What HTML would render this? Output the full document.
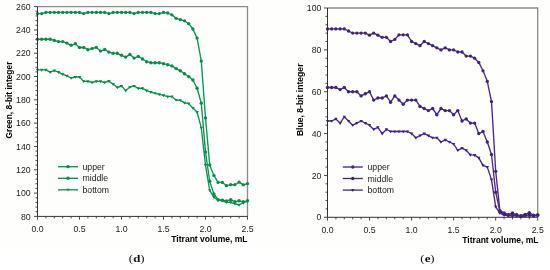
<!DOCTYPE html>
<html><head><meta charset="utf-8"><title>Titration curves</title>
<style>
html,body{margin:0;padding:0;background:#fff;}
body{width:550px;height:270px;overflow:hidden;}
svg{display:block;font-family:"Liberation Sans",sans-serif;}
</style></head><body>
<svg width="550" height="270" viewBox="0 0 550 270">
<rect x="0" y="0" width="550" height="249" fill="#fefefc"/>
<path d="M37.5 6.6H247.5V216.4" fill="none" stroke="#8a8a8a" stroke-width="1.3"/>
<g clip-path="none">
<polyline points="37.5,13.6 41.7,13.6 45.9,12.4 50.1,12.4 54.3,12.4 58.5,12.4 62.7,12.4 66.9,12.4 71.1,12.4 75.3,12.4 79.5,12.4 83.7,13.6 87.9,12.4 92.1,12.4 96.3,12.4 100.5,12.4 104.7,12.4 108.9,13.6 113.1,12.4 117.3,12.4 121.5,12.4 125.7,12.4 129.9,12.4 134.1,13.6 138.3,12.4 142.5,12.4 146.7,12.4 150.9,12.4 155.1,13.6 159.3,13.6 163.5,12.4 167.7,13.0 171.9,14.8 176.1,18.3 180.3,19.7 184.5,20.8 188.7,23.7 192.9,29.0 197.1,38.1 201.3,61.1 205.5,117.9 209.7,164.9 213.9,175.4 218.1,182.4 222.3,182.4 226.5,185.7 230.7,184.7 234.9,184.7 239.1,182.1 243.3,184.9 247.5,183.6" fill="none" stroke="#0b9550" stroke-width="1.35" stroke-linejoin="round"/>
<g fill="#0a8a4a"><circle cx="37.5" cy="13.6" r="1.65"/><circle cx="41.7" cy="13.6" r="1.65"/><circle cx="45.9" cy="12.4" r="1.65"/><circle cx="50.1" cy="12.4" r="1.65"/><circle cx="54.3" cy="12.4" r="1.65"/><circle cx="58.5" cy="12.4" r="1.65"/><circle cx="62.7" cy="12.4" r="1.65"/><circle cx="66.9" cy="12.4" r="1.65"/><circle cx="71.1" cy="12.4" r="1.65"/><circle cx="75.3" cy="12.4" r="1.65"/><circle cx="79.5" cy="12.4" r="1.65"/><circle cx="83.7" cy="13.6" r="1.65"/><circle cx="87.9" cy="12.4" r="1.65"/><circle cx="92.1" cy="12.4" r="1.65"/><circle cx="96.3" cy="12.4" r="1.65"/><circle cx="100.5" cy="12.4" r="1.65"/><circle cx="104.7" cy="12.4" r="1.65"/><circle cx="108.9" cy="13.6" r="1.65"/><circle cx="113.1" cy="12.4" r="1.65"/><circle cx="117.3" cy="12.4" r="1.65"/><circle cx="121.5" cy="12.4" r="1.65"/><circle cx="125.7" cy="12.4" r="1.65"/><circle cx="129.9" cy="12.4" r="1.65"/><circle cx="134.1" cy="13.6" r="1.65"/><circle cx="138.3" cy="12.4" r="1.65"/><circle cx="142.5" cy="12.4" r="1.65"/><circle cx="146.7" cy="12.4" r="1.65"/><circle cx="150.9" cy="12.4" r="1.65"/><circle cx="155.1" cy="13.6" r="1.65"/><circle cx="159.3" cy="13.6" r="1.65"/><circle cx="163.5" cy="12.4" r="1.65"/><circle cx="167.7" cy="13.0" r="1.65"/><circle cx="171.9" cy="14.8" r="1.65"/><circle cx="176.1" cy="18.3" r="1.65"/><circle cx="180.3" cy="19.7" r="1.65"/><circle cx="184.5" cy="20.8" r="1.65"/><circle cx="188.7" cy="23.7" r="1.65"/><circle cx="192.9" cy="29.0" r="1.65"/><circle cx="197.1" cy="38.1" r="1.65"/><circle cx="201.3" cy="61.1" r="1.65"/><circle cx="205.5" cy="117.9" r="1.65"/><circle cx="209.7" cy="164.9" r="1.65"/><circle cx="213.9" cy="175.4" r="1.65"/><circle cx="218.1" cy="182.4" r="1.65"/><circle cx="222.3" cy="182.4" r="1.65"/><circle cx="226.5" cy="185.7" r="1.65"/><circle cx="230.7" cy="184.7" r="1.65"/><circle cx="234.9" cy="184.7" r="1.65"/><circle cx="239.1" cy="182.1" r="1.65"/><circle cx="243.3" cy="184.9" r="1.65"/><circle cx="247.5" cy="183.6" r="1.65"/></g>
<polyline points="37.5,39.2 41.7,39.2 45.9,39.2 50.1,39.2 54.3,40.4 58.5,41.6 62.7,41.6 66.9,43.1 71.1,45.3 75.3,43.8 79.5,47.5 83.7,47.5 87.9,49.7 92.1,48.6 96.3,47.4 100.5,51.1 104.7,49.5 108.9,52.1 113.1,53.3 117.3,53.3 121.5,55.3 125.7,57.1 129.9,54.4 134.1,58.1 138.3,56.4 142.5,59.0 146.7,61.8 150.9,62.7 155.1,62.7 159.3,62.7 163.5,63.7 167.7,64.8 171.9,65.9 176.1,68.6 180.3,70.8 184.5,73.7 188.7,76.6 192.9,80.0 197.1,88.2 201.3,103.3 205.5,152.1 209.7,181.2 213.9,194.0 218.1,199.7 222.3,200.1 226.5,201.0 230.7,199.7 234.9,201.8 239.1,200.8 243.3,201.8 247.5,200.8" fill="none" stroke="#0b9550" stroke-width="1.35" stroke-linejoin="round"/>
<g fill="#0a8a4a"><circle cx="37.5" cy="39.2" r="1.7"/><circle cx="41.7" cy="39.2" r="1.7"/><circle cx="45.9" cy="39.2" r="1.7"/><circle cx="50.1" cy="39.2" r="1.7"/><circle cx="54.3" cy="40.4" r="1.7"/><circle cx="58.5" cy="41.6" r="1.7"/><circle cx="62.7" cy="41.6" r="1.7"/><circle cx="66.9" cy="43.1" r="1.7"/><circle cx="71.1" cy="45.3" r="1.7"/><circle cx="75.3" cy="43.8" r="1.7"/><circle cx="79.5" cy="47.5" r="1.7"/><circle cx="83.7" cy="47.5" r="1.7"/><circle cx="87.9" cy="49.7" r="1.7"/><circle cx="92.1" cy="48.6" r="1.7"/><circle cx="96.3" cy="47.4" r="1.7"/><circle cx="100.5" cy="51.1" r="1.7"/><circle cx="104.7" cy="49.5" r="1.7"/><circle cx="108.9" cy="52.1" r="1.7"/><circle cx="113.1" cy="53.3" r="1.7"/><circle cx="117.3" cy="53.3" r="1.7"/><circle cx="121.5" cy="55.3" r="1.7"/><circle cx="125.7" cy="57.1" r="1.7"/><circle cx="129.9" cy="54.4" r="1.7"/><circle cx="134.1" cy="58.1" r="1.7"/><circle cx="138.3" cy="56.4" r="1.7"/><circle cx="142.5" cy="59.0" r="1.7"/><circle cx="146.7" cy="61.8" r="1.7"/><circle cx="150.9" cy="62.7" r="1.7"/><circle cx="155.1" cy="62.7" r="1.7"/><circle cx="159.3" cy="62.7" r="1.7"/><circle cx="163.5" cy="63.7" r="1.7"/><circle cx="167.7" cy="64.8" r="1.7"/><circle cx="171.9" cy="65.9" r="1.7"/><circle cx="176.1" cy="68.6" r="1.7"/><circle cx="180.3" cy="70.8" r="1.7"/><circle cx="184.5" cy="73.7" r="1.7"/><circle cx="188.7" cy="76.6" r="1.7"/><circle cx="192.9" cy="80.0" r="1.7"/><circle cx="197.1" cy="88.2" r="1.7"/><circle cx="201.3" cy="103.3" r="1.7"/><circle cx="205.5" cy="152.1" r="1.7"/><circle cx="209.7" cy="181.2" r="1.7"/><circle cx="213.9" cy="194.0" r="1.7"/><circle cx="218.1" cy="199.7" r="1.7"/><circle cx="222.3" cy="200.1" r="1.7"/><circle cx="226.5" cy="201.0" r="1.7"/><circle cx="230.7" cy="199.7" r="1.7"/><circle cx="234.9" cy="201.8" r="1.7"/><circle cx="239.1" cy="200.8" r="1.7"/><circle cx="243.3" cy="201.8" r="1.7"/><circle cx="247.5" cy="200.8" r="1.7"/></g>
<polyline points="37.5,69.9 41.7,69.9 45.9,69.9 50.1,72.1 54.3,70.7 58.5,72.1 62.7,74.3 66.9,75.8 71.1,78.0 75.3,77.0 79.5,77.0 83.7,81.4 87.9,81.4 92.1,82.5 96.3,81.4 100.5,81.4 104.7,82.5 108.9,81.2 113.1,84.1 117.3,87.5 121.5,86.0 125.7,90.6 129.9,87.0 134.1,86.0 138.3,88.4 142.5,88.4 146.7,90.6 150.9,92.2 155.1,93.3 159.3,94.4 163.5,95.4 167.7,96.6 171.9,96.6 176.1,100.0 180.3,100.3 184.5,102.9 188.7,103.7 192.9,108.0 197.1,112.1 201.3,127.8 205.5,165.1 209.7,190.4 213.9,197.1 218.1,200.2 222.3,200.8 226.5,202.3 230.7,202.4 234.9,203.8 239.1,204.9 243.3,203.0 247.5,201.2" fill="none" stroke="#0b9550" stroke-width="1.35" stroke-linejoin="round"/>
<g fill="#0a8a4a"><path d="M35.8 68.8h3.4l-1.7 2.9z"/><path d="M40.0 68.8h3.4l-1.7 2.9z"/><path d="M44.2 68.8h3.4l-1.7 2.9z"/><path d="M48.4 71.0h3.4l-1.7 2.9z"/><path d="M52.6 69.6h3.4l-1.7 2.9z"/><path d="M56.8 71.0h3.4l-1.7 2.9z"/><path d="M61.0 73.2h3.4l-1.7 2.9z"/><path d="M65.2 74.7h3.4l-1.7 2.9z"/><path d="M69.4 76.9h3.4l-1.7 2.9z"/><path d="M73.6 75.9h3.4l-1.7 2.9z"/><path d="M77.8 75.9h3.4l-1.7 2.9z"/><path d="M82.0 80.3h3.4l-1.7 2.9z"/><path d="M86.2 80.3h3.4l-1.7 2.9z"/><path d="M90.4 81.4h3.4l-1.7 2.9z"/><path d="M94.6 80.3h3.4l-1.7 2.9z"/><path d="M98.8 80.3h3.4l-1.7 2.9z"/><path d="M103.0 81.4h3.4l-1.7 2.9z"/><path d="M107.2 80.1h3.4l-1.7 2.9z"/><path d="M111.4 83.0h3.4l-1.7 2.9z"/><path d="M115.6 86.4h3.4l-1.7 2.9z"/><path d="M119.8 84.9h3.4l-1.7 2.9z"/><path d="M124.0 89.5h3.4l-1.7 2.9z"/><path d="M128.2 85.9h3.4l-1.7 2.9z"/><path d="M132.4 84.9h3.4l-1.7 2.9z"/><path d="M136.6 87.3h3.4l-1.7 2.9z"/><path d="M140.8 87.3h3.4l-1.7 2.9z"/><path d="M145.0 89.5h3.4l-1.7 2.9z"/><path d="M149.2 91.1h3.4l-1.7 2.9z"/><path d="M153.4 92.2h3.4l-1.7 2.9z"/><path d="M157.6 93.3h3.4l-1.7 2.9z"/><path d="M161.8 94.3h3.4l-1.7 2.9z"/><path d="M166.0 95.5h3.4l-1.7 2.9z"/><path d="M170.2 95.5h3.4l-1.7 2.9z"/><path d="M174.4 98.9h3.4l-1.7 2.9z"/><path d="M178.6 99.2h3.4l-1.7 2.9z"/><path d="M182.8 101.8h3.4l-1.7 2.9z"/><path d="M187.0 102.6h3.4l-1.7 2.9z"/><path d="M191.2 106.9h3.4l-1.7 2.9z"/><path d="M195.4 111.0h3.4l-1.7 2.9z"/><path d="M199.6 126.7h3.4l-1.7 2.9z"/><path d="M203.8 164.0h3.4l-1.7 2.9z"/><path d="M208.0 189.3h3.4l-1.7 2.9z"/><path d="M212.2 196.0h3.4l-1.7 2.9z"/><path d="M216.4 199.1h3.4l-1.7 2.9z"/><path d="M220.6 199.7h3.4l-1.7 2.9z"/><path d="M224.8 201.2h3.4l-1.7 2.9z"/><path d="M229.0 201.3h3.4l-1.7 2.9z"/><path d="M233.2 202.7h3.4l-1.7 2.9z"/><path d="M237.4 203.8h3.4l-1.7 2.9z"/><path d="M241.6 201.9h3.4l-1.7 2.9z"/><path d="M245.8 200.1h3.4l-1.7 2.9z"/></g>
</g>
<path d="M37.5 6.6V216.4H247.5" fill="none" stroke="#333" stroke-width="1"/>
<path d="M34.0 216.40H37.5M35.5 211.74H37.5M35.5 207.08H37.5M35.5 202.41H37.5M35.5 197.75H37.5M34.0 193.09H37.5M35.5 188.43H37.5M35.5 183.76H37.5M35.5 179.10H37.5M35.5 174.44H37.5M34.0 169.78H37.5M35.5 165.12H37.5M35.5 160.45H37.5M35.5 155.79H37.5M35.5 151.13H37.5M34.0 146.47H37.5M35.5 141.80H37.5M35.5 137.14H37.5M35.5 132.48H37.5M35.5 127.82H37.5M34.0 123.16H37.5M35.5 118.49H37.5M35.5 113.83H37.5M35.5 109.17H37.5M35.5 104.51H37.5M34.0 99.84H37.5M35.5 95.18H37.5M35.5 90.52H37.5M35.5 85.86H37.5M35.5 81.20H37.5M34.0 76.53H37.5M35.5 71.87H37.5M35.5 67.21H37.5M35.5 62.55H37.5M35.5 57.88H37.5M34.0 53.22H37.5M35.5 48.56H37.5M35.5 43.90H37.5M35.5 39.24H37.5M35.5 34.57H37.5M34.0 29.91H37.5M35.5 25.25H37.5M35.5 20.59H37.5M35.5 15.92H37.5M35.5 11.26H37.5M34.0 6.60H37.5M37.50 216.4v3.3M45.90 216.4v2M54.30 216.4v2M62.70 216.4v2M71.10 216.4v2M79.50 216.4v3.3M87.90 216.4v2M96.30 216.4v2M104.70 216.4v2M113.10 216.4v2M121.50 216.4v3.3M129.90 216.4v2M138.30 216.4v2M146.70 216.4v2M155.10 216.4v2M163.50 216.4v3.3M171.90 216.4v2M180.30 216.4v2M188.70 216.4v2M197.10 216.4v2M205.50 216.4v3.3M213.90 216.4v2M222.30 216.4v2M230.70 216.4v2M239.10 216.4v2M247.50 216.4v3.3" fill="none" stroke="#333" stroke-width="0.9"/>
<g font-size="8.7" fill="#1a1a1a">
<text x="30.6" y="219.5" text-anchor="end">80</text>
<text x="30.6" y="196.2" text-anchor="end">100</text>
<text x="30.6" y="172.9" text-anchor="end">120</text>
<text x="30.6" y="149.6" text-anchor="end">140</text>
<text x="30.6" y="126.3" text-anchor="end">160</text>
<text x="30.6" y="102.9" text-anchor="end">180</text>
<text x="30.6" y="79.6" text-anchor="end">200</text>
<text x="30.6" y="56.3" text-anchor="end">220</text>
<text x="30.6" y="33.0" text-anchor="end">240</text>
<text x="30.6" y="9.7" text-anchor="end">260</text>
<text x="37.5" y="232.0" text-anchor="middle">0.0</text>
<text x="79.5" y="232.0" text-anchor="middle">0.5</text>
<text x="121.5" y="232.0" text-anchor="middle">1.0</text>
<text x="163.5" y="232.0" text-anchor="middle">1.5</text>
<text x="205.5" y="232.0" text-anchor="middle">2.0</text>
<text x="247.5" y="232.0" text-anchor="middle">2.5</text>
<text x="82.5" y="169.7">upper</text>
<text x="82.5" y="181.3">middle</text>
<text x="82.5" y="192.8">bottom</text>
</g>
<path d="M58 166.7h20" stroke="#0b9550" stroke-width="1.35" fill="none"/>
<circle cx="68" cy="166.7" r="1.65" fill="#0a8a4a"/>
<path d="M58 178.3h20" stroke="#0b9550" stroke-width="1.35" fill="none"/>
<circle cx="68" cy="178.3" r="1.7" fill="#0a8a4a"/>
<path d="M58 189.8h20" stroke="#0b9550" stroke-width="1.35" fill="none"/>
<path d="M66.3 188.7h3.4l-1.7 2.9z" fill="#0a8a4a"/>
<text x="247.6" y="242.4" text-anchor="end" font-size="8.55" font-weight="bold" fill="#000">Titrant volume, mL</text>
<text transform="translate(11.5 100)  rotate(-90)" text-anchor="middle" font-size="8.4" font-weight="bold" fill="#000">Green, 8-bit integer</text>
<text transform="translate(136.7 261.8) scale(1.15 1)" text-anchor="middle" font-family="'Liberation Serif', serif" font-size="11.2" fill="#111">(<tspan font-weight="bold">d</tspan>)</text>
<path d="M327.5 8.0H537.7V217.3" fill="none" stroke="#8a8a8a" stroke-width="1.3"/>
<g clip-path="none">
<polyline points="327.5,28.9 331.7,28.9 335.9,28.9 340.1,28.9 344.3,28.9 348.5,31.0 352.7,33.1 356.9,33.1 361.1,33.1 365.3,33.1 369.5,35.2 373.7,33.1 377.9,35.2 382.2,37.3 386.4,37.3 390.6,41.5 394.8,39.4 399.0,34.8 403.2,34.8 407.4,34.8 411.6,41.5 415.8,43.6 420.0,45.7 424.2,41.5 428.4,43.6 432.6,45.7 436.8,47.8 441.0,49.9 445.2,47.8 449.4,49.9 453.6,49.9 457.8,52.0 462.0,52.0 466.2,56.1 470.4,56.1 474.6,58.2 478.8,62.4 483.0,70.8 487.3,81.3 491.5,101.6 495.7,171.3 499.9,210.6 504.1,212.9 508.3,214.6 512.5,212.9 516.7,215.2 520.9,215.6 525.1,214.4 529.3,212.7 533.5,215.2 537.7,214.8" fill="none" stroke="#48298a" stroke-width="1.35" stroke-linejoin="round"/>
<g fill="#3e2378"><circle cx="327.5" cy="28.9" r="1.65"/><circle cx="331.7" cy="28.9" r="1.65"/><circle cx="335.9" cy="28.9" r="1.65"/><circle cx="340.1" cy="28.9" r="1.65"/><circle cx="344.3" cy="28.9" r="1.65"/><circle cx="348.5" cy="31.0" r="1.65"/><circle cx="352.7" cy="33.1" r="1.65"/><circle cx="356.9" cy="33.1" r="1.65"/><circle cx="361.1" cy="33.1" r="1.65"/><circle cx="365.3" cy="33.1" r="1.65"/><circle cx="369.5" cy="35.2" r="1.65"/><circle cx="373.7" cy="33.1" r="1.65"/><circle cx="377.9" cy="35.2" r="1.65"/><circle cx="382.2" cy="37.3" r="1.65"/><circle cx="386.4" cy="37.3" r="1.65"/><circle cx="390.6" cy="41.5" r="1.65"/><circle cx="394.8" cy="39.4" r="1.65"/><circle cx="399.0" cy="34.8" r="1.65"/><circle cx="403.2" cy="34.8" r="1.65"/><circle cx="407.4" cy="34.8" r="1.65"/><circle cx="411.6" cy="41.5" r="1.65"/><circle cx="415.8" cy="43.6" r="1.65"/><circle cx="420.0" cy="45.7" r="1.65"/><circle cx="424.2" cy="41.5" r="1.65"/><circle cx="428.4" cy="43.6" r="1.65"/><circle cx="432.6" cy="45.7" r="1.65"/><circle cx="436.8" cy="47.8" r="1.65"/><circle cx="441.0" cy="49.9" r="1.65"/><circle cx="445.2" cy="47.8" r="1.65"/><circle cx="449.4" cy="49.9" r="1.65"/><circle cx="453.6" cy="49.9" r="1.65"/><circle cx="457.8" cy="52.0" r="1.65"/><circle cx="462.0" cy="52.0" r="1.65"/><circle cx="466.2" cy="56.1" r="1.65"/><circle cx="470.4" cy="56.1" r="1.65"/><circle cx="474.6" cy="58.2" r="1.65"/><circle cx="478.8" cy="62.4" r="1.65"/><circle cx="483.0" cy="70.8" r="1.65"/><circle cx="487.3" cy="81.3" r="1.65"/><circle cx="491.5" cy="101.6" r="1.65"/><circle cx="495.7" cy="171.3" r="1.65"/><circle cx="499.9" cy="210.6" r="1.65"/><circle cx="504.1" cy="212.9" r="1.65"/><circle cx="508.3" cy="214.6" r="1.65"/><circle cx="512.5" cy="212.9" r="1.65"/><circle cx="516.7" cy="215.2" r="1.65"/><circle cx="520.9" cy="215.6" r="1.65"/><circle cx="525.1" cy="214.4" r="1.65"/><circle cx="529.3" cy="212.7" r="1.65"/><circle cx="533.5" cy="215.2" r="1.65"/><circle cx="537.7" cy="214.8" r="1.65"/></g>
<polyline points="327.5,87.5 331.7,87.5 335.9,87.5 340.1,89.6 344.3,87.5 348.5,91.7 352.7,91.7 356.9,91.7 361.1,95.9 365.3,93.8 369.5,91.7 373.7,100.1 377.9,98.0 382.2,98.0 386.4,95.9 390.6,102.2 394.8,95.9 399.0,100.1 403.2,104.3 407.4,100.1 411.6,100.1 415.8,100.1 420.0,106.4 424.2,108.5 428.4,110.6 432.6,108.5 436.8,114.7 441.0,108.5 445.2,110.6 449.4,110.6 453.6,114.7 457.8,110.6 462.0,121.0 466.2,118.9 470.4,123.1 474.6,123.1 478.8,133.6 483.0,131.5 487.3,142.0 491.5,154.5 495.7,192.2 499.9,211.9 504.1,214.2 508.3,215.2 512.5,215.2 516.7,214.8 520.9,216.3 525.1,215.2 529.3,215.2 533.5,215.6 537.7,215.2" fill="none" stroke="#48298a" stroke-width="1.35" stroke-linejoin="round"/>
<g fill="#3e2378"><circle cx="327.5" cy="87.5" r="1.7"/><circle cx="331.7" cy="87.5" r="1.7"/><circle cx="335.9" cy="87.5" r="1.7"/><circle cx="340.1" cy="89.6" r="1.7"/><circle cx="344.3" cy="87.5" r="1.7"/><circle cx="348.5" cy="91.7" r="1.7"/><circle cx="352.7" cy="91.7" r="1.7"/><circle cx="356.9" cy="91.7" r="1.7"/><circle cx="361.1" cy="95.9" r="1.7"/><circle cx="365.3" cy="93.8" r="1.7"/><circle cx="369.5" cy="91.7" r="1.7"/><circle cx="373.7" cy="100.1" r="1.7"/><circle cx="377.9" cy="98.0" r="1.7"/><circle cx="382.2" cy="98.0" r="1.7"/><circle cx="386.4" cy="95.9" r="1.7"/><circle cx="390.6" cy="102.2" r="1.7"/><circle cx="394.8" cy="95.9" r="1.7"/><circle cx="399.0" cy="100.1" r="1.7"/><circle cx="403.2" cy="104.3" r="1.7"/><circle cx="407.4" cy="100.1" r="1.7"/><circle cx="411.6" cy="100.1" r="1.7"/><circle cx="415.8" cy="100.1" r="1.7"/><circle cx="420.0" cy="106.4" r="1.7"/><circle cx="424.2" cy="108.5" r="1.7"/><circle cx="428.4" cy="110.6" r="1.7"/><circle cx="432.6" cy="108.5" r="1.7"/><circle cx="436.8" cy="114.7" r="1.7"/><circle cx="441.0" cy="108.5" r="1.7"/><circle cx="445.2" cy="110.6" r="1.7"/><circle cx="449.4" cy="110.6" r="1.7"/><circle cx="453.6" cy="114.7" r="1.7"/><circle cx="457.8" cy="110.6" r="1.7"/><circle cx="462.0" cy="121.0" r="1.7"/><circle cx="466.2" cy="118.9" r="1.7"/><circle cx="470.4" cy="123.1" r="1.7"/><circle cx="474.6" cy="123.1" r="1.7"/><circle cx="478.8" cy="133.6" r="1.7"/><circle cx="483.0" cy="131.5" r="1.7"/><circle cx="487.3" cy="142.0" r="1.7"/><circle cx="491.5" cy="154.5" r="1.7"/><circle cx="495.7" cy="192.2" r="1.7"/><circle cx="499.9" cy="211.9" r="1.7"/><circle cx="504.1" cy="214.2" r="1.7"/><circle cx="508.3" cy="215.2" r="1.7"/><circle cx="512.5" cy="215.2" r="1.7"/><circle cx="516.7" cy="214.8" r="1.7"/><circle cx="520.9" cy="216.3" r="1.7"/><circle cx="525.1" cy="215.2" r="1.7"/><circle cx="529.3" cy="215.2" r="1.7"/><circle cx="533.5" cy="215.6" r="1.7"/><circle cx="537.7" cy="215.2" r="1.7"/></g>
<polyline points="327.5,121.0 331.7,121.0 335.9,118.9 340.1,123.1 344.3,116.8 348.5,121.0 352.7,125.2 356.9,123.1 361.1,121.0 365.3,123.1 369.5,125.2 373.7,129.4 377.9,127.3 382.2,133.6 386.4,129.4 390.6,131.5 394.8,131.5 399.0,131.5 403.2,131.5 407.4,131.5 411.6,133.6 415.8,137.8 420.0,135.7 424.2,133.6 428.4,135.7 432.6,137.8 436.8,137.8 441.0,142.0 445.2,139.9 449.4,142.0 453.6,144.0 457.8,150.3 462.0,148.2 466.2,150.3 470.4,154.9 474.6,155.1 478.8,157.9 483.0,165.4 487.3,167.1 491.5,179.6 495.7,206.8 499.9,213.1 504.1,215.2 508.3,215.6 512.5,216.0 516.7,215.6 520.9,216.5 525.1,216.0 529.3,215.6 533.5,216.0 537.7,215.6" fill="none" stroke="#48298a" stroke-width="1.35" stroke-linejoin="round"/>
<g fill="#3e2378"><path d="M325.8 119.9h3.4l-1.7 2.9z"/><path d="M330.0 119.9h3.4l-1.7 2.9z"/><path d="M334.2 117.8h3.4l-1.7 2.9z"/><path d="M338.4 122.0h3.4l-1.7 2.9z"/><path d="M342.6 115.7h3.4l-1.7 2.9z"/><path d="M346.8 119.9h3.4l-1.7 2.9z"/><path d="M351.0 124.1h3.4l-1.7 2.9z"/><path d="M355.2 122.0h3.4l-1.7 2.9z"/><path d="M359.4 119.9h3.4l-1.7 2.9z"/><path d="M363.6 122.0h3.4l-1.7 2.9z"/><path d="M367.8 124.1h3.4l-1.7 2.9z"/><path d="M372.0 128.3h3.4l-1.7 2.9z"/><path d="M376.2 126.2h3.4l-1.7 2.9z"/><path d="M380.5 132.5h3.4l-1.7 2.9z"/><path d="M384.7 128.3h3.4l-1.7 2.9z"/><path d="M388.9 130.4h3.4l-1.7 2.9z"/><path d="M393.1 130.4h3.4l-1.7 2.9z"/><path d="M397.3 130.4h3.4l-1.7 2.9z"/><path d="M401.5 130.4h3.4l-1.7 2.9z"/><path d="M405.7 130.4h3.4l-1.7 2.9z"/><path d="M409.9 132.5h3.4l-1.7 2.9z"/><path d="M414.1 136.7h3.4l-1.7 2.9z"/><path d="M418.3 134.6h3.4l-1.7 2.9z"/><path d="M422.5 132.5h3.4l-1.7 2.9z"/><path d="M426.7 134.6h3.4l-1.7 2.9z"/><path d="M430.9 136.7h3.4l-1.7 2.9z"/><path d="M435.1 136.7h3.4l-1.7 2.9z"/><path d="M439.3 140.9h3.4l-1.7 2.9z"/><path d="M443.5 138.8h3.4l-1.7 2.9z"/><path d="M447.7 140.9h3.4l-1.7 2.9z"/><path d="M451.9 142.9h3.4l-1.7 2.9z"/><path d="M456.1 149.2h3.4l-1.7 2.9z"/><path d="M460.3 147.1h3.4l-1.7 2.9z"/><path d="M464.5 149.2h3.4l-1.7 2.9z"/><path d="M468.7 153.8h3.4l-1.7 2.9z"/><path d="M472.9 154.0h3.4l-1.7 2.9z"/><path d="M477.1 156.8h3.4l-1.7 2.9z"/><path d="M481.3 164.3h3.4l-1.7 2.9z"/><path d="M485.6 166.0h3.4l-1.7 2.9z"/><path d="M489.8 178.5h3.4l-1.7 2.9z"/><path d="M494.0 205.7h3.4l-1.7 2.9z"/><path d="M498.2 212.0h3.4l-1.7 2.9z"/><path d="M502.4 214.1h3.4l-1.7 2.9z"/><path d="M506.6 214.5h3.4l-1.7 2.9z"/><path d="M510.8 214.9h3.4l-1.7 2.9z"/><path d="M515.0 214.5h3.4l-1.7 2.9z"/><path d="M519.2 215.4h3.4l-1.7 2.9z"/><path d="M523.4 214.9h3.4l-1.7 2.9z"/><path d="M527.6 214.5h3.4l-1.7 2.9z"/><path d="M531.8 214.9h3.4l-1.7 2.9z"/><path d="M536.0 214.5h3.4l-1.7 2.9z"/></g>
</g>
<path d="M327.5 8.0V217.3H537.7" fill="none" stroke="#333" stroke-width="1"/>
<path d="M324.0 217.30H327.5M325.5 208.93H327.5M325.5 200.56H327.5M325.5 192.18H327.5M325.5 183.81H327.5M324.0 175.44H327.5M325.5 167.07H327.5M325.5 158.70H327.5M325.5 150.32H327.5M325.5 141.95H327.5M324.0 133.58H327.5M325.5 125.21H327.5M325.5 116.84H327.5M325.5 108.46H327.5M325.5 100.09H327.5M324.0 91.72H327.5M325.5 83.35H327.5M325.5 74.98H327.5M325.5 66.60H327.5M325.5 58.23H327.5M324.0 49.86H327.5M325.5 41.49H327.5M325.5 33.12H327.5M325.5 24.74H327.5M325.5 16.37H327.5M324.0 8.00H327.5M327.50 217.3v3.3M335.91 217.3v2M344.32 217.3v2M352.72 217.3v2M361.13 217.3v2M369.54 217.3v3.3M377.95 217.3v2M386.36 217.3v2M394.76 217.3v2M403.17 217.3v2M411.58 217.3v3.3M419.99 217.3v2M428.40 217.3v2M436.80 217.3v2M445.21 217.3v2M453.62 217.3v3.3M462.03 217.3v2M470.44 217.3v2M478.84 217.3v2M487.25 217.3v2M495.66 217.3v3.3M504.07 217.3v2M512.48 217.3v2M520.88 217.3v2M529.29 217.3v2M537.70 217.3v3.3" fill="none" stroke="#333" stroke-width="0.9"/>
<g font-size="8.7" fill="#1a1a1a">
<text x="321.3" y="220.4" text-anchor="end">0</text>
<text x="321.3" y="178.5" text-anchor="end">20</text>
<text x="321.3" y="136.7" text-anchor="end">40</text>
<text x="321.3" y="94.8" text-anchor="end">60</text>
<text x="321.3" y="53.0" text-anchor="end">80</text>
<text x="321.3" y="11.1" text-anchor="end">100</text>
<text x="327.5" y="232.9" text-anchor="middle">0.0</text>
<text x="369.5" y="232.9" text-anchor="middle">0.5</text>
<text x="411.6" y="232.9" text-anchor="middle">1.0</text>
<text x="453.6" y="232.9" text-anchor="middle">1.5</text>
<text x="495.7" y="232.9" text-anchor="middle">2.0</text>
<text x="537.7" y="232.9" text-anchor="middle">2.5</text>
<text x="367.5" y="170.0">upper</text>
<text x="367.5" y="181.5">middle</text>
<text x="367.5" y="193.1">bottom</text>
</g>
<path d="M342.8 167h20" stroke="#48298a" stroke-width="1.35" fill="none"/>
<circle cx="352.8" cy="167" r="1.65" fill="#3e2378"/>
<path d="M342.8 178.5h20" stroke="#48298a" stroke-width="1.35" fill="none"/>
<circle cx="352.8" cy="178.5" r="1.7" fill="#3e2378"/>
<path d="M342.8 190.1h20" stroke="#48298a" stroke-width="1.35" fill="none"/>
<path d="M351.1 189.0h3.4l-1.7 2.9z" fill="#3e2378"/>
<text x="538.6" y="243.3" text-anchor="end" font-size="8.55" font-weight="bold" fill="#000">Titrant volume, mL</text>
<text transform="translate(303.2 99.8)  rotate(-90)" text-anchor="middle" font-size="8.6" font-weight="bold" fill="#000">Blue, 8-bit integer</text>
<text transform="translate(427.5 261.8) scale(1.15 1)" text-anchor="middle" font-family="'Liberation Serif', serif" font-size="11.2" fill="#111">(<tspan font-weight="bold">e</tspan>)</text>
</svg>
</body></html>
